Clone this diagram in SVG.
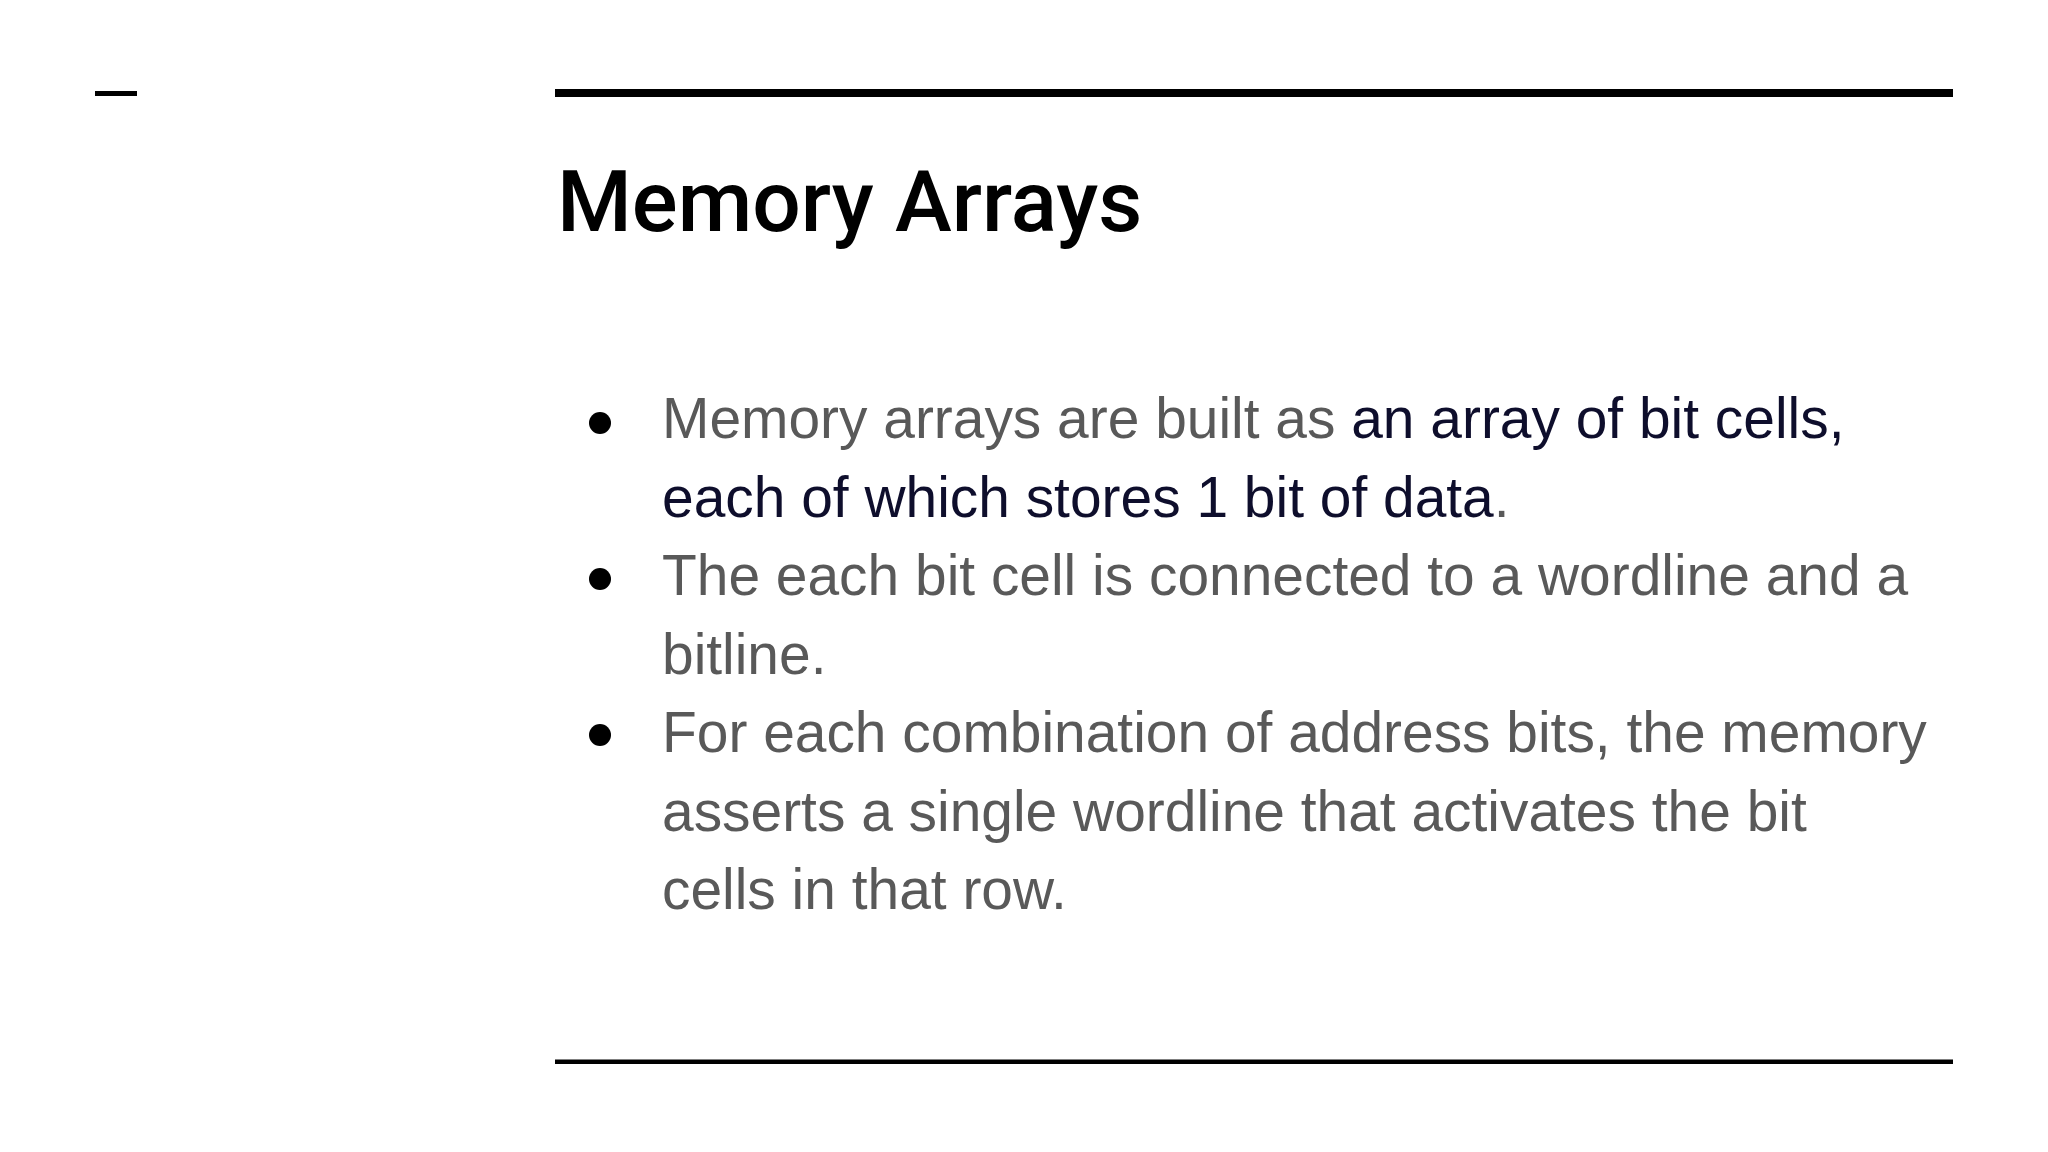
<svg xmlns="http://www.w3.org/2000/svg" width="2048" height="1152" viewBox="0 0 2048 1152">
  <style>
    .title { font-family: Roboto, "Liberation Sans", sans-serif; font-weight: 500; font-size: 85.6px; fill: #000000; }
    .body { font-family: "Liberation Sans", Arial, sans-serif; font-size: 56.9px; fill: #595959; }
    .hl { fill: #0e0e2c; }
    .bullet { fill: #000000; }
    .rule { fill: #000000; }
  </style>
  <rect x="0" y="0" width="2048" height="1152" fill="#ffffff"/>
  <g id="decorations">
    <rect class="rule" x="95" y="91" width="42" height="5"/>
    <rect class="rule" x="555" y="89" width="1398" height="8"/>
    <rect class="rule" x="555" y="1059.5" width="1398" height="4.5"/>
  </g>
  <g id="title">
    <text class="title" x="557" y="231">Memory Arrays</text>
  </g>
  <g id="bullets">
    <circle class="bullet" cx="600" cy="423" r="11"/>
    <circle class="bullet" cx="600" cy="579" r="11"/>
    <circle class="bullet" cx="600" cy="735" r="11"/>
  </g>
  <g id="body">
    <text class="body" x="662" y="438">Memory arrays are built as <tspan class="hl">an array of bit cells,</tspan></text>
    <text class="body" x="662" y="516.5"><tspan class="hl">each of which stores 1 bit of data</tspan>.</text>
    <text class="body" x="662" y="595">The each bit cell is connected to a wordline and a</text>
    <text class="body" x="662" y="673.5">bitline.</text>
    <text class="body" x="662" y="752">For each combination of address bits, the memory</text>
    <text class="body" x="662" y="830.5">asserts a single wordline that activates the bit</text>
    <text class="body" x="662" y="909">cells in that row.</text>
  </g>
</svg>
